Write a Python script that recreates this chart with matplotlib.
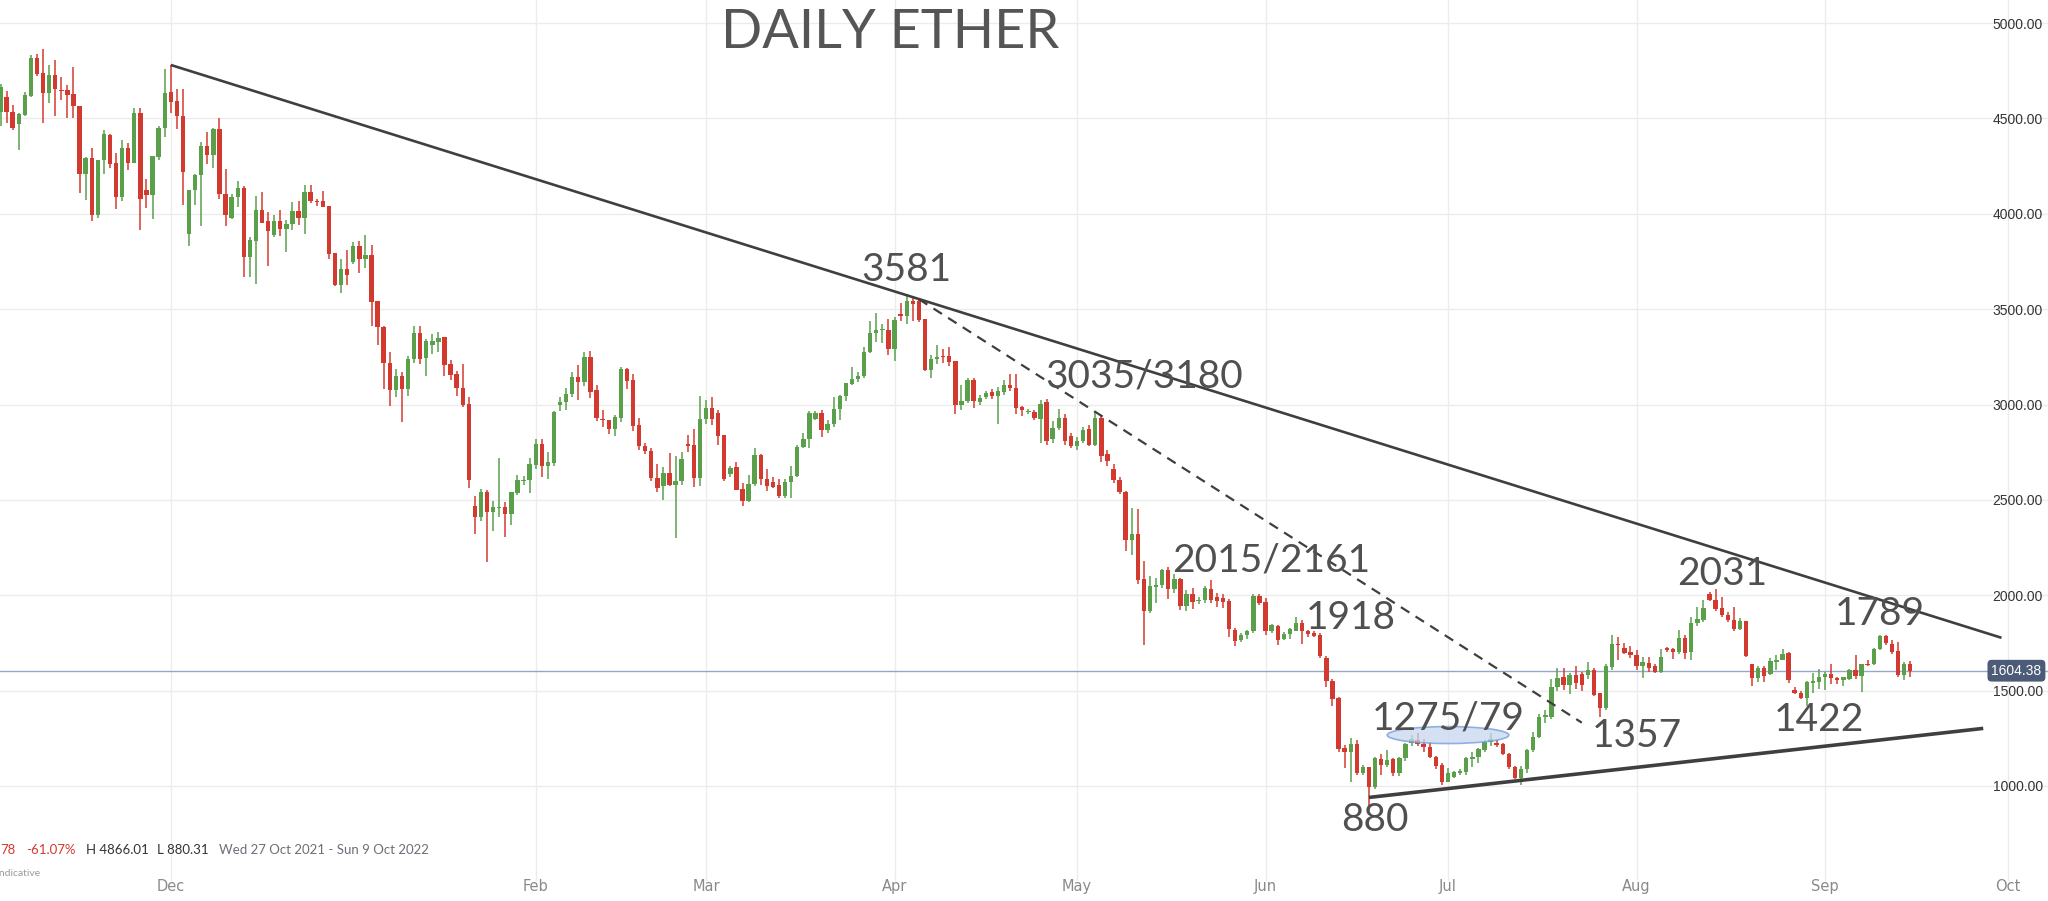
import numpy as np
import pandas as pd
import matplotlib
matplotlib.use("Agg")
import matplotlib.pyplot as plt
import matplotlib.transforms as mtransforms
from matplotlib.patches import Ellipse

# ---------------- data ----------------
start_date, end_date = "2021-11-03", "2022-09-15"
closed_days = ["2021-12-25", "2022-01-01"]   # no candle on these days

open_ = [
    # Nov
    4532,4611,4535,4470,4518,4616,4817,4739,4632,4725,4651,4648,4628,4567,4209,4290,3995,4280,4415,4264,4086,4343,4268,4528,4127,4097,4298,4447,
    # Dec
    4637,4590,4514,3895,4122,4201,4356,4308,4444,4104,3977,4088,4136,3775,3859,4022,3960,3889,3960,3921,3946,4016,3977,4113,4065,4065,4039,3792,3625,3708,
    # Jan
    3746,3830,3764,3786,3541,3406,3217,3077,3151,3081,3238,3375,3244,3314,3326,3352,3212,3161,3086,3004,2468,2412,2543,2438,2459,2464,2424,2536,2599,2604,
    # Feb
    2683,2792,2680,2692,2998,3012,3056,3142,3117,3249,3077,2923,2920,2871,2928,3188,3130,2892,2783,2758,2615,2575,2640,2580,2599,2794,2786,2617,
    # Mar
    2925,2983,2957,2838,2634,2674,2556,2495,2582,2733,2612,2594,2577,2518,2596,2626,2779,2817,2925,2957,2864,2896,2974,3044,3110,3136,3148,3274,3375,3390,3392,
    # Apr
    3291,3476,3465,3545,3540,3448,3183,3237,3253,3253,3226,3000,3017,3127,3014,3038,3064,3044,3066,3101,3087,2986,2960,2960,2925,3012,2820,2878,2930,2837,
    # May
    2781,2811,2869,2790,2930,2738,2662,2606,2542,2291,2323,2085,1920,2043,2052,2130,2032,2085,1945,2006,1968,1973,2034,1990,1985,1968,1819,1763,1789,1810,1997,
    # Jun
    1962,1810,1840,1770,1798,1815,1857,1810,1801,1792,1670,1553,1460,1198,1180,1220,1066,1098,993,1140,1110,1140,1066,1145,1224,1241,1220,1206,1150,1110,
    # Jul
    1023,1049,1070,1075,1140,1150,1189,1230,1227,1218,1170,1101,1040,1087,1189,1258,1360,1360,1517,1569,1529,1581,1585,1581,1607,1485,1410,1625,1747,1721,1703,
    # Aug
    1686,1628,1646,1628,1599,1721,1716,1703,1778,1703,1852,1869,2009,1977,1935,1895,1872,1825,1865,1642,1568,1621,1586,1650,1663,1698,1505,1488,1463,1540,1545,
    # Sep
    1572,1586,1567,1558,1563,1607,1575,1638,1638,1720,1785,1747,1708,1580,1642,
]
high = [
    4680,4646,4570,4530,4640,4830,4840,4866.01,4782,4808,4718,4673,4768,4567,4297,4346,4280,4438,4417,4317,4387,4373,4555,4555,4180,4301,4461,4757,
    4780,4655,4655,4123,4206,4377,4430,4452,4500,4232,4106,4171,4144,3880,4092,4113,4008,3995,4022,3968,4060,4065,4153,4153,4079,4120,4039,3792,3761,3810,
    3851,3856,3888,3835,3541,3410,3276,3188,3170,3252,3410,3410,3345,3368,3380,3352,3235,3177,3210,3040,2520,2556,2550,2493,2718,2490,2543,2630,2625,2720,
    2820,2820,2750,2965,3040,3084,3170,3208,3274,3282,3104,2972,2920,2945,3198,3190,3160,2927,2800,2770,2690,2670,2745,2730,2750,2840,2870,3044,
    3026,3040,2970,2838,2680,2700,2590,2630,2770,2740,2660,2620,2610,2610,2680,2790,2850,2967,2967,2970,2920,3040,3050,3115,3197,3170,3300,3440,3479,3420,3450,
    3460,3530,3581,3560,3555,3450,3260,3310,3290,3300,3226,3100,3140,3140,3050,3070,3080,3090,3130,3160,3160,2990,2975,2970,3025,3030,2915,2975,2950,2850,
    2830,2880,2890,2960,2945,2760,2690,2620,2545,2460,2450,2180,2100,2090,2140,2150,2110,2090,2030,2040,1990,2050,2080,2010,2005,1980,1830,1800,1820,2005,2005,
    1985,1850,1845,1805,1830,1885,1870,1820,1815,1800,1680,1560,1465,1215,1250,1240,1110,1100,1150,1170,1190,1145,1150,1225,1265,1280,1245,1230,1155,1120,
    1095,1080,1090,1150,1180,1200,1240,1280,1240,1225,1175,1105,1105,1195,1285,1380,1400,1560,1620,1620,1590,1630,1600,1650,1620,1490,1640,1790,1780,1750,1735,
    1712,1677,1677,1640,1720,1727,1721,1816,1790,1887,1940,1973,2018,2031,1990,1912,1940,1880,1865,1642,1628,1630,1673,1685,1720,1703,1519,1500,1551,1590,1612,
    1600,1642,1572,1567,1615,1685,1642,1660,1725,1789,1789,1765,1755,1650,1654,
]
low = [
    4460,4475,4440,4335,4510,4610,4720,4474,4580,4515,4595,4500,4500,4108,4073,3960,3977,4206,4240,4025,4065,4230,4268,3915,4030,3972,4282,4400,
    4530,4444,4047,3833,4044,3935,4260,4238,4078,3935,3972,4035,3669,3669,3630,3950,3725,3877,3884,3800,3916,3940,3893,4056,4039,4035,3761,3620,3585,3625,
    3734,3687,3716,3412,3310,3081,2993,3041,2907,3046,3216,3212,3150,3263,3277,3150,3128,3046,2987,2560,2323,2389,2174,2338,2412,2307,2370,2527,2580,2534,
    2660,2620,2610,2680,2965,2973,3040,3025,3099,3032,2915,2880,2845,2835,2910,3083,2862,2760,2740,2600,2540,2500,2575,2300,2580,2750,2565,2573,
    2900,2893,2790,2600,2620,2550,2470,2490,2575,2580,2545,2560,2510,2512,2510,2620,2770,2770,2920,2830,2850,2880,2920,3020,3100,3120,3140,3270,3330,3320,3262,
    3230,3440,3420,3440,3430,3175,3140,3210,3220,3200,2950,2970,3010,2980,3000,3030,3030,2900,3050,3070,2950,2940,2950,2920,2800,2790,2800,2865,2790,2770,
    2760,2800,2780,2780,2700,2680,2590,2530,2230,2210,2060,1740,1905,1960,2040,1980,2010,1925,1920,1930,1955,1960,1960,1940,1935,1780,1735,1755,1770,1800,1950,
    1790,1800,1740,1765,1770,1810,1745,1780,1780,1670,1520,1420,1180,1095,1020,1060,1060,880.31,985,1060,1100,1050,1050,1130,1210,1210,1180,1145,1090,1005,
    1020,1040,1060,1060,1100,1120,1180,1210,1205,1160,1090,1035,1005,1070,1180,1250,1330,1350,1500,1505,1480,1510,1500,1560,1470,1363,1400,1610,1660,1690,1670,
    1610,1564,1600,1590,1595,1700,1668,1690,1668,1663,1840,1860,1970,1920,1885,1860,1815,1820,1677,1523,1545,1545,1580,1610,1660,1540,1480,1458,1422,1485,1510,
    1505,1537,1537,1525,1555,1563,1493,1630,1633,1715,1740,1694,1571,1555,1570,
]
close = [
    4664,4532,4447,4523,4620,4817,4734,4632,4725,4655,4644,4625,4563,4206,4290,3995,4280,4417,4259,4086,4343,4268,4528,4078,4097,4301,4449,4634,
    4588,4514,4218,4123,4201,4356,4308,4444,4104,3995,4088,4136,3775,3863,4022,3954,3907,3960,3919,3946,4016,3977,4113,4065,4060,4035,3789,3625,3708,3681,
    3830,3764,3786,3538,3406,3217,3077,3151,3081,3238,3375,3238,3335,3331,3349,3209,3156,3086,2998,2604,2412,2543,2438,2461,2464,2424,2540,2604,2603,2688,
    2792,2680,2697,2960,3012,3056,3142,3117,3249,3068,2928,2920,2871,2932,3188,3125,2888,2783,2758,2615,2560,2640,2580,2600,2716,2782,2617,2925,
    2983,2922,2835,2612,2669,2552,2495,2582,2733,2612,2573,2570,2518,2596,2626,2779,2821,2957,2957,2864,2896,2974,3044,3113,3134,3148,3274,3375,3392,3395,3291,
    3444,3465,3545,3528,3444,3183,3239,3250,3247,3221,3000,3017,3127,3017,3035,3060,3044,3070,3101,3087,2983,2972,2965,2930,3005,2808,2878,2930,2808,2781,
    2811,2864,2790,2930,2732,2703,2606,2540,2291,2323,2078,1920,2050,2055,2130,2032,2085,1945,2006,1962,1976,2038,1973,1970,1962,1822,1758,1789,1815,1997,1959,
    1815,1842,1763,1798,1822,1857,1810,1798,1787,1679,1548,1455,1192,1180,1220,1066,1098,993,1145,1110,1136,1066,1145,1220,1245,1218,1206,1150,1105,1023,
    1070,1075,1080,1145,1154,1192,1232,1245,1215,1168,1098,1040,1087,1189,1258,1363,1370,1520,1564,1529,1581,1538,1529,1607,1476,1410,1628,1747,1738,1698,1686,
    1628,1651,1621,1599,1677,1712,1703,1778,1698,1852,1873,1935,1977,1930,1895,1872,1825,1865,1680,1568,1621,1575,1656,1663,1694,1558,1488,1463,1545,1551,1572,
    1589,1568,1558,1572,1607,1575,1638,1633,1720,1785,1750,1703,1580,1642,1604.38,
]
last_price = 1604.38

y_ticks = [1000, 1500, 2000, 2500, 3000, 3500, 4000, 4500, 5000]
month_dates = ["2021-12-01", "2022-02-01", "2022-03-01", "2022-04-01", "2022-05-01",
               "2022-06-01", "2022-07-01", "2022-08-01", "2022-09-01", "2022-10-01"]
month_labels = ["Dec", "Feb", "Mar", "Apr", "May", "Jun", "Jul", "Aug", "Sep", "Oct"]

# trend lines: (date, price) anchors
upper_trend = [("2021-12-01", 4780), ("2022-09-30", 1777)]
dashed_trend = [("2022-04-05", 3552), ("2022-07-23", 1332)]
lower_trend = [("2022-06-18", 940), ("2022-09-27", 1302)]

# annotation labels: text, date, price
ann_text = ["3581", "3035/3180", "2015/2161", "1918", "1275/79", "1357", "880", "2031", "1789", "1422"]
ann_date = ["2022-04-03", "2022-05-12", "2022-06-02", "2022-06-15", "2022-07-01",
            "2022-08-01", "2022-06-19", "2022-08-15", "2022-09-10", "2022-08-31"]
ann_price = [3706, 3145, 2180, 1881, 1352, 1263, 822, 2112, 1902, 1347]
zone_date, zone_price = "2022-07-01", 1267

# ---------------- helpers ----------------
dates = pd.date_range(start_date, end_date).drop(pd.to_datetime(closed_days))
n = len(dates)
assert len(open_) == n and len(high) == n and len(low) == n and len(close) == n
closed_ts = pd.to_datetime(closed_days)


def pos(d):
    d = pd.Timestamp(d)
    k = (d - dates[0]).days
    return k - int(sum(c < d for c in closed_ts))


o = np.array(open_, float); h = np.array(high, float)
l = np.array(low, float); c = np.array(close, float)
x = np.arange(n)

GREEN = "#5aa04b"
RED = "#d33a2f"
LINE = "#3f3f3f"
TXT = "#555555"

fig = plt.figure(figsize=(20.48, 9.01), dpi=100)
ax = fig.add_axes([0, 0, 1, 1])
ax.set_xlim(-0.083, 336.65)
ax.set_ylim(397.1, 5120.6)
for s in ax.spines.values():
    s.set_visible(False)
ax.set_facecolor("white")

# grid
for yv in y_ticks:
    ax.axhline(yv, color="#ececec", lw=1, zorder=0)
for md in month_dates:
    ax.axvline(pos(md), ymin=21 / 901, ymax=1, color="#ececec", lw=1, zorder=0)

# last price line
ax.axhline(last_price, color="#97a6c4", lw=1, zorder=1)

# candles
up = c >= o
cols = np.where(up, GREEN, RED)
body_lo = np.minimum(o, c)
body_h = np.maximum(np.abs(c - o), 6)
ax.vlines(x, l, h, colors=cols, lw=1.1, zorder=2)
ax.bar(x, body_h, bottom=body_lo, width=0.72, color=cols, edgecolor="none", zorder=3)

# trend lines
def draw_trend(pts, **kw):
    xs = [pos(d) for d, _ in pts]
    ys = [p for _, p in pts]
    ax.plot(xs, ys, color=LINE, zorder=4, **kw)

draw_trend(upper_trend, lw=1.9, solid_capstyle="butt")
draw_trend(dashed_trend, lw=1.6, linestyle=(0, (4.5, 3.3)))
draw_trend(lower_trend, lw=2.6, solid_capstyle="butt")

# zone ellipse
ax.add_patch(Ellipse((pos(zone_date), zone_price), width=20, height=89,
                     facecolor="#c8d8f0", edgecolor="#6f9bd8", lw=1.2, alpha=0.75, zorder=5))

# annotations
for t, d, p in zip(ann_text, ann_date, ann_price):
    ax.text(pos(d), p, t, ha="center", va="center", fontsize=28, color="#505050",
            family="Lato", zorder=6)

# y ticks (right, inside)
ax.set_yticks(y_ticks)
ax.yaxis.tick_right()
ax.set_yticklabels([f"{v:.2f}" for v in y_ticks], ha="right", family="Liberation Sans",
                   fontsize=10, color="#333333")
ax.tick_params(axis="y", length=0, pad=-3.8)

# x ticks (bottom, inside)
ax.set_xticks([pos(d) for d in month_dates])
ax.set_xticklabels(month_labels, family=["Liberation Sans Narrow", "DejaVu Sans"],
                   fontsize=10.5, color="#8a8a8a")
ax.tick_params(axis="x", length=0, pad=-16)

# last price tag
tr = mtransforms.blended_transform_factory(ax.transAxes, ax.transData)
ax.text(1 - 6.5 / 2048, last_price, f"{last_price:.2f}", transform=tr, ha="right", va="center",
        fontsize=10, color="white", family="Liberation Sans", zorder=7,
        bbox=dict(boxstyle="round,pad=0.28,rounding_size=0.3", fc="#4c5b78", ec="none"))

# title
fig.text(890.5 / 2048, 1 - 33 / 901, "DAILY ETHER", ha="center", va="center",
         fontsize=39, color=TXT, family="Lato")

# info line bottom-left
info_y = 1 - 850 / 901
fig.text(0 / 2048, info_y, "78", color="#d33a2f", fontsize=9.5, family="Lato", va="center")
fig.text(26 / 2048, info_y, "-61.07%", color="#d33a2f", fontsize=9.5, family="Lato", va="center")
fig.text(86 / 2048, info_y, "H 4866.01", color="#333333", fontsize=9.5, family="Lato", va="center")
fig.text(157 / 2048, info_y, "L 880.31", color="#333333", fontsize=9.5, family="Lato", va="center")
fig.text(219 / 2048, info_y, "Wed 27 Oct 2021 - Sun 9 Oct 2022", color="#6e6e78", fontsize=9.5,
         family="Lato", va="center")
fig.text(-4 / 2048, 1 - 873 / 901, "Indicative", color="#9a9a9a", fontsize=7.5, family="Lato", va="center")

fig.savefig("out.png", dpi=100, facecolor="white")
